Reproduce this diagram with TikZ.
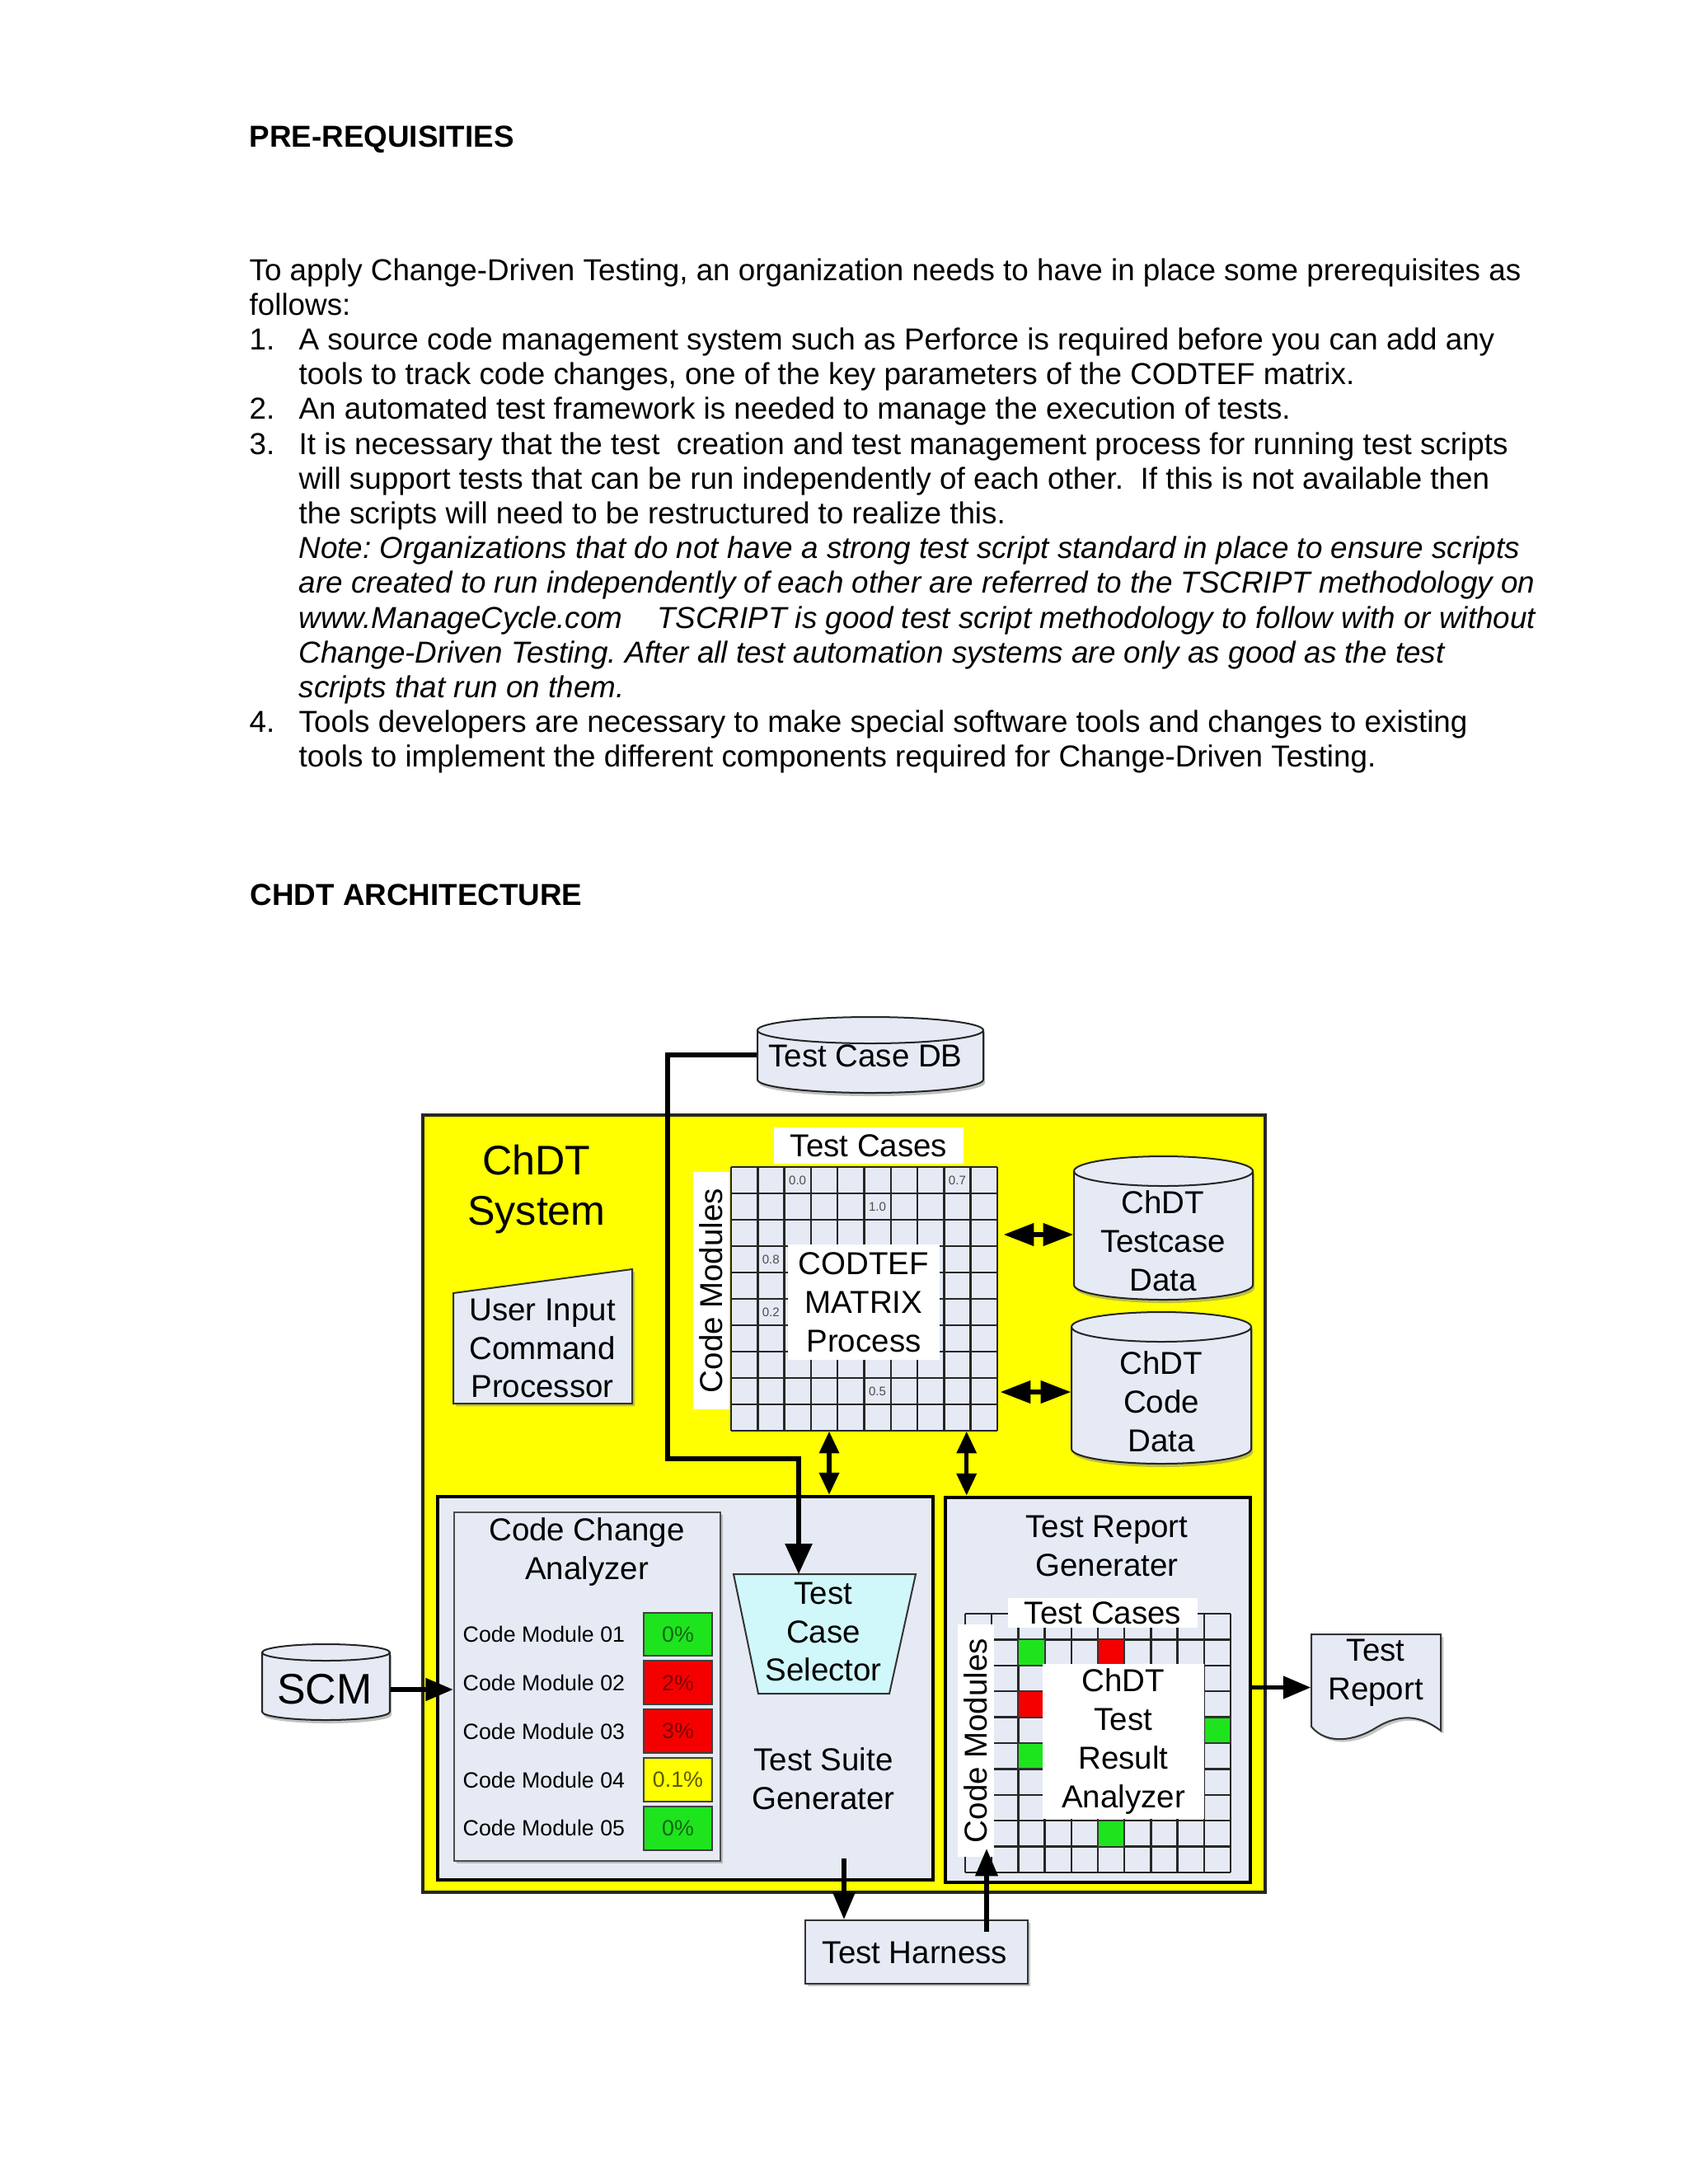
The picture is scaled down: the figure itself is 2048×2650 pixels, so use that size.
\documentclass[tikz,border=0pt]{standalone}
\usepackage{fontspec}
\setmainfont{Liberation Sans}
\usetikzlibrary{arrows.meta,positioning,calc,fit,shadows}
\definecolor{sysyellow}{RGB}{255,255,0}
\definecolor{panelgray}{RGB}{230,234,245}
\definecolor{selcyan}{RGB}{208,248,250}
\definecolor{passgreen}{RGB}{30,228,30}
\definecolor{failred}{RGB}{245,0,0}
\definecolor{warnyellow}{RGB}{255,255,0}
\definecolor{darkgreen}{RGB}{20,100,20}
\definecolor{darkred}{RGB}{120,0,0}
\definecolor{darkolive}{RGB}{90,90,0}
\frenchspacing

% drum: left x, right x, top rim y, bottom rim y, rim radius
\newcommand{\drum}[5]{%
  \draw[drumline,drumshadow] (#1,#3) -- (#1,#4)
    arc[start angle=180,end angle=0,x radius={(#2-#1)/2},y radius=#5]
    -- (#2,#3)
    arc[start angle=0,end angle=-180,x radius={(#2-#1)/2},y radius=#5] -- cycle;
  \draw[drumline,fill=none] (#1,#3)
    arc[start angle=180,end angle=0,x radius={(#2-#1)/2},y radius=#5];
}

\begin{document}
\begin{tikzpicture}[x=0.29883pt,y=-0.29883pt,
    bodyline/.style={anchor=base west,inner sep=0pt,font=\fontsize{11}{12.6}\selectfont},
    headline/.style={bodyline,font=\fontsize{11}{12.6}\selectfont\bfseries},
    lbl/.style={font=\fontsize{11.5}{14}\selectfont,align=center,inner sep=0pt},
    biglbl/.style={font=\fontsize{15}{18.2}\selectfont,align=center,inner sep=0pt},
    whitelbl/.style={lbl,fill=white},
    modlabel/.style={anchor=west,inner sep=0pt,font=\fontsize{8}{9}\selectfont},
    pctbox/.style={draw=black!75,line width=0.6pt,minimum width=24.8pt,minimum height=15.8pt,inner sep=0pt,font=\fontsize{8}{9}\selectfont},
    cellnum/.style={inner sep=0pt,text=black!70,font=\fontsize{4.5}{5}\selectfont},
    gridline/.style={draw=black!85,line width=0.75pt},
    drumline/.style={draw=black!85,line width=0.6pt,fill=panelgray},
    drumshadow/.style={drop shadow={shadow xshift=0.6pt,shadow yshift=-1.2pt,opacity=0.5}},
    boxshadow/.style={drop shadow={shadow xshift=1pt,shadow yshift=-1pt,opacity=0.45}},
    panel/.style={draw=black,line width=1.4pt,fill=panelgray,inner sep=0pt},
    boxline/.style={draw=black!80,line width=0.6pt,fill=panelgray},
    bigarrow/.style={line width=1.6pt,-{Triangle[width=8pt,length=10pt]}},
    dblarrow/.style={line width=1.6pt,{Triangle[width=8pt,length=11pt]}-{Triangle[width=8pt,length=11pt]}},
    vdblarrow/.style={line width=1.6pt,{Triangle[width=7pt,length=8pt]}-{Triangle[width=7pt,length=8pt]}}
  ]
  \fill[white] (0,0) rectangle (2048,2650);
  \useasboundingbox (0,0) rectangle (2048,2650);

  % Text above the diagram
  \node[headline] (hpre) at (302,178) {PRE-REQUISITIES};
  \node[bodyline] (l0) at (302,340) {To apply Change-Driven Testing, an organization needs to have in place some prerequisites as};
  \node[bodyline] (l1) at (302,382.2) {follows:};
  \node[bodyline] (n1) at (302,424.4) {1.};
  \node[bodyline] (l2) at (362,424.4) {A source code management system such as Perforce is required before you can add any};
  \node[bodyline] (l3) at (362,466.6) {tools to track code changes, one of the key parameters of the CODTEF matrix.};
  \node[bodyline] (n2) at (302,508.8) {2.};
  \node[bodyline] (l4) at (362,508.8) {An automated test framework is needed to manage the execution of tests.};
  \node[bodyline] (n3) at (302,551) {3.};
  \node[bodyline] (l5) at (362,551) {It is necessary that the test\ \ creation and test management process for running test scripts};
  \node[bodyline] (l6) at (362,593.2) {will support tests that can be run independently of each other.\ \ If this is not available then};
  \node[bodyline] (l7) at (362,635.4) {the scripts will need to be restructured to realize this.};
  \node[bodyline,font=\fontsize{11}{12.6}\selectfont\itshape] (l8) at (362,677.6) {Note: Organizations that do not have a strong test script standard in place to ensure scripts};
  \node[bodyline,font=\fontsize{11}{12.6}\selectfont\itshape] (l9) at (362,719.8) {are created to run independently of each other are referred to the TSCRIPT methodology on};
  \node[bodyline,font=\fontsize{11}{12.6}\selectfont\itshape] (l10) at (362,762) {www.ManageCycle.com\hspace{12.5pt}TSCRIPT is good test script methodology to follow with or without};
  \node[bodyline,font=\fontsize{11}{12.6}\selectfont\itshape] (l11) at (362,804.2) {Change-Driven Testing. After all test automation systems are only as good as the test};
  \node[bodyline,font=\fontsize{11}{12.6}\selectfont\itshape] (l12) at (362,846.4) {scripts that run on them.};
  \node[bodyline] (n4) at (302,888.6) {4.};
  \node[bodyline] (l13) at (362,888.6) {Tools developers are necessary to make special software tools and changes to existing};
  \node[bodyline] (l14) at (362,930.8) {tools to implement the different components required for Change-Driven Testing.};
  \node[headline] (harch) at (303,1098) {CHDT ARCHITECTURE};

  % ChDT system box
  \node[draw=black!85,line width=1pt,fill=sysyellow,inner sep=0pt,fit={(513,1353) (1535,2296)}] (sys) {};
  \node[biglbl] (systitle) at (651,1443) {ChDT\\System};

  % Test case database
  \drum{919}{1193}{1250}{1310}{16}
  \node[inner sep=0pt,fit={(919,1234) (1193,1326)}] (tcdb) {};
  \node[lbl] (tcdbtxt) at (1050,1281) {Test Case DB};

  % User input command processor
  \draw[boxline,boxshadow] (550,1569) -- (767,1540) -- (767,1703) -- (550,1703) -- cycle;
  \node[lbl] (uicp) at (658,1636) {User Input\\Command\\Processor};

  % CODTEF matrix
  \node[inner sep=0pt,fill=panelgray,fit={(887,1416) (1210,1736)}] (mx) {};
  \foreach \i in {0,...,10} {
    \draw[gridline] (887+32.3*\i,1416) -- ++(0,320);
    \draw[gridline] (887,1416+32*\i) -- ++(323,0);
  }
  \foreach \c/\r/\v in {2/0/0.0, 8/0/0.7, 5/1/1.0, 1/3/0.8, 1/5/0.2, 5/8/0.5} {
    \node[cellnum] (v\c\r) at (887+32.3*\c+16,1416+32*\r+16) {\v};
  }
  \node[whitelbl,minimum width=69pt,minimum height=13.2pt] (mxcases) at (1054,1390) {Test Cases};
  \node[whitelbl,rotate=90,minimum width=86pt,minimum height=12.9pt] (mxmods) at (863,1566) {Code Modules};
  \node[whitelbl,minimum width=54.7pt,minimum height=41.8pt] (codtef) at (1048,1580) {CODTEF\\MATRIX\\Process};

  % ChDT data stores
  \drum{1303}{1520}{1421}{1559}{18}
  \node[inner sep=0pt,fit={(1303,1403) (1520,1577)}] (tcdata) {};
  \node[lbl] (tcdatatxt) at (1411,1506) {ChDT\\Testcase\\Data};
  \drum{1300}{1518}{1610}{1758}{18}
  \node[inner sep=0pt,fit={(1300,1592) (1518,1776)}] (cddata) {};
  \node[lbl] (cddatatxt) at (1409,1701) {ChDT\\Code\\Data};

  % Test suite generater
  \node[panel,fit={(531,1816) (1132,2281)}] (tsg) {};
  \node[panel,draw=black!70,line width=0.7pt,boxshadow,fit={(551,1835) (874,2258)}] (cca) {};
  \node[lbl] (ccatxt) at (712,1883) {Code Change\\Analyzer};
  \foreach \k/\pct/\bg/\fg in {1/0\%/passgreen/darkgreen, 2/2\%/failred/darkred, 3/3\%/failred/darkred, 4/0.1\%/warnyellow/darkolive, 5/0\%/passgreen/darkgreen} {
    \node[modlabel] (cm\k) at (561,1983+58.8*\k-58.8) {Code Module 0\k};
    \node[pctbox,fill=\bg,text=\fg] (pc\k) at (822.5,1983+58.8*\k-58.8) {\pct};
  }
  \draw[draw=black!80,line width=0.6pt,fill=selcyan] (890,1910) -- (1111,1910) -- (1079,2055) -- (920,2055) -- cycle;
  \node[lbl] (tcs) at (999,1980) {Test\\Case\\Selector};
  \coordinate (tcsin) at (969,1910);
  \node[lbl] (tsgtxt) at (999,2158) {Test Suite\\Generater};

  % Test report generater
  \node[panel,fit={(1147,1817) (1517,2284)}] (trg) {};
  \node[lbl] (trgtxt) at (1343,1876) {Test Report\\Generater};
  \foreach \i in {0,...,10} {
    \draw[gridline] (1171+32.2*\i,1958) -- ++(0,314);
    \draw[gridline] (1171,1958+31.4*\i) -- ++(322,0);
  }
  \foreach \c/\r/\cc in {2/1/passgreen, 5/1/failred, 2/3/failred, 2/5/passgreen, 9/4/passgreen, 5/8/passgreen} {
    \fill[\cc,draw=black!80,line width=0.6pt] (1171+32.2*\c,1958+31.4*\r) rectangle ++(32.2,31.4);
  }
  \node[inner sep=0pt,fit={(1171,1958) (1493,2272)}] (rgrid) {};
  \node[whitelbl,minimum width=68.7pt,minimum height=10.5pt] (rgcases) at (1338,1957) {Test Cases};
  \node[whitelbl,rotate=90,minimum width=84pt,minimum height=12.9pt] (rgmods) at (1184,2112) {Code Modules};
  \node[whitelbl,minimum width=58.3pt,minimum height=56.2pt] (analyzer) at (1363,2113) {ChDT\\Test\\Result\\Analyzer};

  % Outside parts
  \drum{318}{473}{2005}{2077}{10}
  \node[inner sep=0pt,fit={(318,1995) (473,2087)}] (scm) {};
  \node[biglbl,font=\fontsize{15.5}{18}\selectfont] (scmtxt) at (394,2050) {SCM};
  \draw[boxline,boxshadow] (1591,1983) -- (1748,1983) -- (1748,2100)
    .. controls (1725,2082) and (1700,2078) .. (1670,2096)
    .. controls (1645,2112) and (1610,2118) .. (1591,2095) -- cycle;
  \node[inner sep=0pt,fit={(1591,1983) (1748,2112)}] (report) {};
  \node[lbl] (reporttxt) at (1669,2030) {Test\\Report};
  \node[boxline,boxshadow,inner sep=0pt,fit={(977,2330) (1247,2407)}] (harness) {};
  \node[lbl] (harnesstxt) at (1110,2369) {Test Harness};

  % Connectors
  \coordinate (dbbend) at (810,1770);
  \draw[line width=1.8pt,-{Triangle[width=9.5pt,length=11pt]}] (tcdb.west) -| (dbbend) -| (tcsin);
  \draw[dblarrow] (mx.east |- tcdata.west) ++(7,8) -- ($(tcdata.west)+(0,8)$);
  \draw[dblarrow] (mx.east |- cddata.west) ++(3,5) -- ($(cddata.west)+(0,5)$);
  \coordinate (mxa) at ($(mx.south west)!0.369!(mx.south east)$);
  \coordinate (mxb) at ($(mx.south west)!0.883!(mx.south east)$);
  \draw[vdblarrow] (mxa) -- (mxa |- tsg.north);
  \draw[vdblarrow] (mxb) -- (mxb |- trg.north);
  \draw[bigarrow] (scm.east |- scmtxt) -- (scmtxt -| cca.west);
  \draw[bigarrow] (trg.east |- report.west) -- (report.west);
  \coordinate (dnstart) at (1024,2255);
  \draw[bigarrow] (dnstart) -- (dnstart |- harness.north);
  \coordinate (uptip) at (1197,2243);
  \draw[bigarrow] (uptip |- harness.north) ++(0,15) -- (uptip);
\end{tikzpicture}
\end{document}
